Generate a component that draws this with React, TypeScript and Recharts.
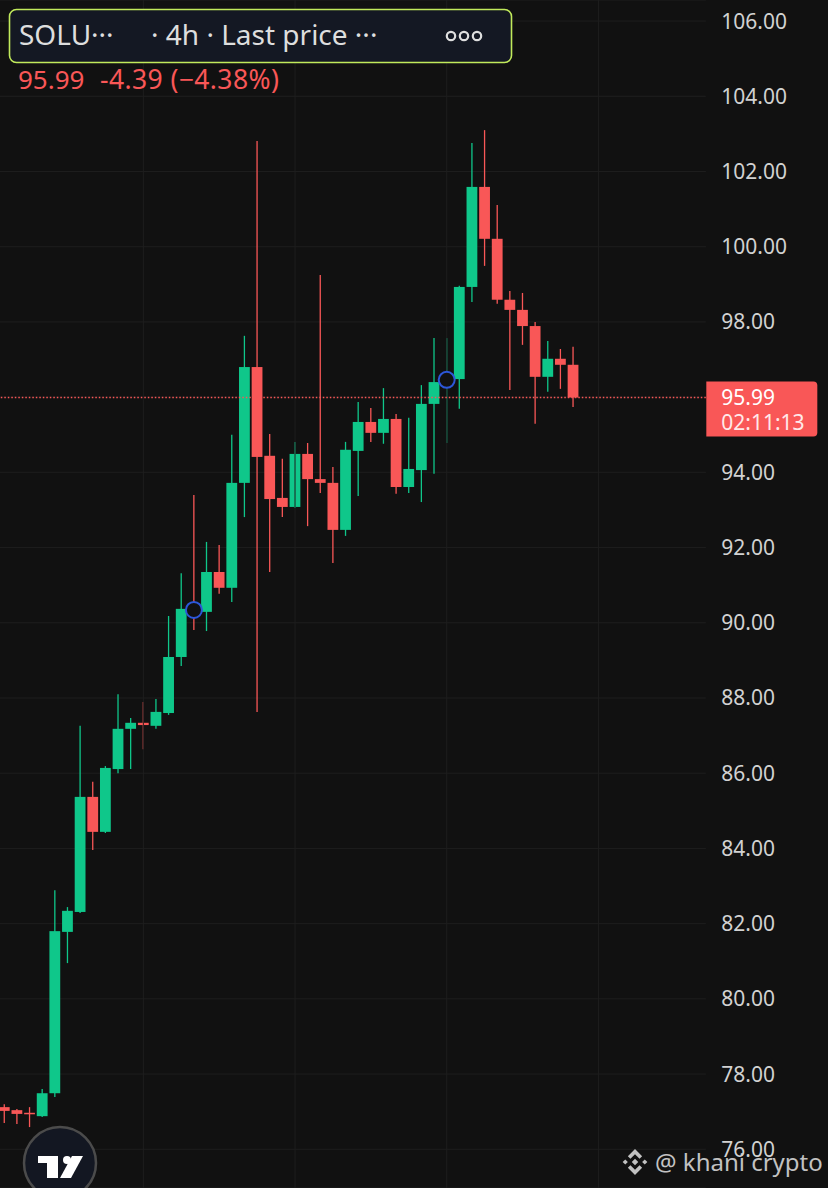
import React from "react";
import { ComposedChart, Bar, XAxis, YAxis, CartesianGrid, ReferenceLine, ReferenceDot } from "recharts";

// 4h candles, oldest first
const opens = [
  77.12, 77.04, 76.97, 76.88, 77.49, 81.78, 82.31, 85.37, 84.44, 86.11,
  87.18, 87.34, 87.26, 87.6, 89.09, 90.45, 90.29, 91.35, 90.93, 93.72,
  96.8, 94.44, 93.32, 93.08, 94.49, 93.82, 93.72, 92.47, 94.57, 95.34,
  95.05, 95.42, 93.61, 94.06, 95.82, 96.4, 96.48, 98.93, 101.59, 100.21,
  98.59, 98.32, 97.89, 96.54, 97.02, 96.86,
];
const highs = [
  77.2, 77.07, 77.12, 77.6, 82.89, 82.44, 87.26, 85.77, 86.19, 88.1,
  87.47, 87.89, 87.97, 90.18, 91.32, 93.4, 92.15, 92.07, 95.0, 97.63,
  102.81, 95.02, 94.36, 94.81, 94.78, 99.25, 94.14, 94.81, 95.87, 95.71,
  96.24, 95.55, 95.45, 96.32, 97.57, 97.57, 98.96, 102.76, 103.1, 101.11,
  98.82, 98.77, 98.0, 97.49, 97.28, 97.34,
];
const lows = [
  76.7, 76.67, 76.59, 76.86, 77.39, 80.95, 82.28, 83.96, 84.41, 86.0,
  86.11, 86.64, 87.18, 87.55, 88.85, 89.81, 89.78, 90.77, 90.55, 92.81,
  87.63, 91.35, 92.81, 93.05, 92.57, 93.45, 91.59, 92.31, 93.37, 94.81,
  94.76, 93.43, 93.45, 93.21, 93.96, 94.78, 95.69, 98.53, 99.49, 98.48,
  96.19, 97.39, 95.29, 96.14, 96.22, 95.74,
];
const closes = [
  77.02, 76.94, 76.95, 77.49, 81.8, 82.34, 85.37, 84.44, 86.14, 87.18,
  87.34, 87.28, 87.63, 89.09, 90.37, 90.29, 91.35, 90.93, 93.72, 96.8,
  94.41, 93.29, 93.08, 94.49, 93.82, 93.72, 92.47, 94.6, 95.34, 95.05,
  95.42, 93.61, 94.09, 95.82, 96.4, 96.51, 98.93, 101.59, 100.21, 98.59,
  98.32, 97.89, 96.54, 97.02, 96.86, 95.99,
];
const emptySlots = 10; // room to the right of the last candle
const priceTicks = [76, 78, 80, 82, 84, 86, 88, 90, 92, 94, 96, 98, 100, 102, 104, 106];
const dayLines = [11, 23, 35, 47];
const markers = [
  { i: 15, price: 90.34 },
  { i: 35, price: 96.46 },
];
const lastPrice = 95.99;
const countdown = "02:11:13";

const GREEN = "#0fc78a";
const RED = "#f95757";
const BG = "#111111";
const GRID = "#1e1e1e";
const FONT = "'Noto Sans', sans-serif";

const rows = Array.from({ length: opens.length + emptySlots }, (_, i) =>
  i < opens.length
    ? { i, o: opens[i], h: highs[i], l: lows[i], c: closes[i] }
    : { i, o: null, h: null, l: null, c: null }
);

function Candle(props: any) {
  const { x, y, width, height, payload } = props;
  if (!payload || payload.o == null) return null;
  const { o, h, l, c } = payload;
  const color = c >= o ? GREEN : RED;
  const top = Math.min(y, y + height);
  const span = Math.abs(height);
  const ratio = span / (h - l);
  const cx = x + width / 2;
  const bodyTop = top + (h - Math.max(o, c)) * ratio;
  const bodyH = Math.max(Math.abs(o - c) * ratio, 1.5);
  return (
    <g>
      <line x1={cx} x2={cx} y1={top} y2={top + span} stroke={color} strokeWidth={1.3} />
      <rect x={cx - 5.4} y={bodyTop} width={10.8} height={bodyH} fill={color} />
    </g>
  );
}

function PriceTick(props: any) {
  const { x, y, payload } = props;
  // the last-price tag sits over this label
  if (Math.abs(payload.value - lastPrice) < 0.8) return null;
  return (
    <text x={x} y={y + 7.5} fill="#d2d2d2" fontSize={21} fontFamily={FONT} textAnchor="start">
      {payload.value.toFixed(2)}
    </text>
  );
}

function PriceTag(props: any) {
  const { viewBox } = props;
  const left = viewBox.x + viewBox.width + 0.5;
  const y = viewBox.y;
  return (
    <g>
      <path
        d={`M${left},${y - 16} h107 a4,4 0 0 1 4,4 v47 a4,4 0 0 1 -4,4 h-107 z`}
        fill={RED}
      />
      <text x={left + 15} y={y + 7.5} fill="#ffffff" fontSize={21} fontFamily={FONT}>
        {lastPrice.toFixed(2)}
      </text>
      <text x={left + 15} y={y + 32.5} fill="#ffe9e9" fontSize={21} fontFamily={FONT}>
        {countdown}
      </text>
    </g>
  );
}

function binancePoints(pts: number[][], cx: number, cy: number, s: number) {
  return pts.map(([px, py]) => `${cx + px * s},${cy + py * s}`).join(" ");
}

export default function App() {
  const bn = { cx: 635, cy: 1162, s: 13 };
  return (
    <div
      style={{
        position: "absolute",
        left: 0,
        top: 0,
        width: 828,
        height: 1188,
        background: BG,
        overflow: "hidden",
        fontFamily: FONT,
      }}
    >
      <div style={{ position: "absolute", left: -2.32, top: 0 }}>
        <ComposedChart
          width={830.32}
          height={1188}
          data={rows}
          margin={{ top: 0, right: 0, bottom: 0, left: 0 }}
        >
          <CartesianGrid stroke={GRID} vertical={false} />
          <XAxis dataKey="i" hide />
          <YAxis
            orientation="right"
            width={122.5}
            domain={[74.97, 106.56]}
            allowDataOverflow
            ticks={priceTicks}
            axisLine={false}
            tickLine={false}
            tickMargin={9.5}
            tick={<PriceTick />}
          />
          {dayLines.map((d) => (
            <ReferenceLine key={d} x={d} stroke={GRID} strokeWidth={1} />
          ))}
          <ReferenceLine
            y={lastPrice}
            stroke={RED}
            strokeWidth={1.5}
            strokeDasharray="1.5 2"
            label={<PriceTag />}
          />
          <Bar
            dataKey={(d: any) => (d.o == null ? null : [d.l, d.h])}
            shape={<Candle />}
            isAnimationActive={false}
          />
          {markers.map((m) => (
            <ReferenceDot
              key={m.i}
              x={m.i}
              y={m.price}
              r={8}
              fill={BG}
              stroke="#2d57d9"
              strokeWidth={2}
            />
          ))}
        </ComposedChart>
      </div>

      <svg
        width={828}
        height={1188}
        style={{ position: "absolute", left: 0, top: 0, pointerEvents: "none" }}
      >
        {/* symbol header */}
        <rect x={9.5} y={9.5} width={502} height={53} rx={7} fill="#141823" stroke="#c1ea5b" strokeWidth={1.6} />
        <text x={19} y={45} fill="#dedede" fontSize={28} fontFamily={FONT}>
          SOLU···
        </text>
        <text x={151} y={45} fill="#dedede" fontSize={28} fontFamily={FONT}>
          · 4h · Last price ···
        </text>
        {[451, 464, 477].map((cx) => (
          <circle key={cx} cx={cx} cy={36} r={4.2} fill="none" stroke="#dedede" strokeWidth={2.2} />
        ))}
        <text x={18} y={89} fill={RED} fontSize={26} fontFamily={FONT}>
          95.99
        </text>
        <text x={100} y={89} fill={RED} fontSize={26.5} fontFamily={FONT} letterSpacing={0.4}>
          -4.39 (−4.38%)
        </text>

        {/* TradingView badge */}
        <circle cx={60} cy={1163} r={36} fill="#131722" stroke="#4b4b4b" strokeWidth={2.5} />
        <path d="M38,1156 h20 v22 h-11 v-15 h-9 z" fill="#ffffff" />
        <circle cx={67} cy={1160} r={4} fill="#ffffff" />
        <polygon points="72,1156 83,1156 71,1178 60,1178" fill="#ffffff" />

        {/* watermark */}
        <g fill="#d6d6d6" opacity={0.9}>
          <polygon points={binancePoints([[0, -0.25], [0.25, 0], [0, 0.25], [-0.25, 0]], bn.cx, bn.cy, bn.s)} />
          <polygon points={binancePoints([[-0.75, -0.2], [-0.55, 0], [-0.75, 0.2], [-0.95, 0]], bn.cx, bn.cy, bn.s)} />
          <polygon points={binancePoints([[0.75, -0.2], [0.95, 0], [0.75, 0.2], [0.55, 0]], bn.cx, bn.cy, bn.s)} />
          <polygon
            points={binancePoints(
              [[0, -1], [0.55, -0.45], [0.35, -0.25], [0, -0.6], [-0.35, -0.25], [-0.55, -0.45]],
              bn.cx, bn.cy, bn.s
            )}
          />
          <polygon
            points={binancePoints(
              [[0, 1], [0.55, 0.45], [0.35, 0.25], [0, 0.6], [-0.35, 0.25], [-0.55, 0.45]],
              bn.cx, bn.cy, bn.s
            )}
          />
          <text x={655} y={1171} fontSize={24} fontFamily={FONT}>
            @ khani crypto
          </text>
        </g>
      </svg>
    </div>
  );
}
